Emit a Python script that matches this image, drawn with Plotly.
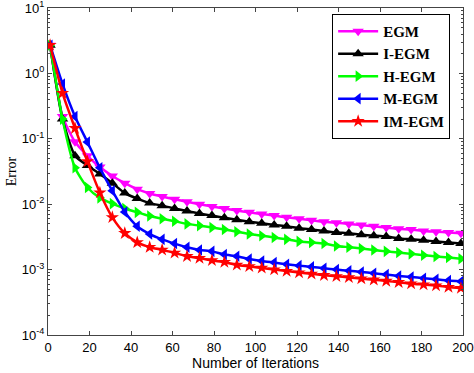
import plotly.graph_objects as go

iterations = [1, 7, 13, 19, 25, 31, 37, 43, 49, 55, 61, 67, 73, 79, 85, 91, 97,
              103, 109, 115, 121, 127, 133, 139, 145, 151, 157, 163, 169, 175,
              181, 187, 193, 199]

egm = [2.7, 0.22, 0.09, 0.055, 0.037, 0.027, 0.021, 0.017, 0.0146, 0.0131,
       0.0119, 0.0109, 0.0100, 0.0092, 0.0086, 0.0080, 0.0075, 0.0071, 0.0067,
       0.0063, 0.0060, 0.0057, 0.0054, 0.0052, 0.0050, 0.0048, 0.0046, 0.0044,
       0.0042, 0.0041, 0.0039, 0.0038, 0.0037, 0.0036]

i_egm = [2.7, 0.2, 0.055, 0.039, 0.029, 0.021, 0.0148, 0.0122, 0.0104, 0.0095,
         0.0086, 0.0079, 0.0072, 0.0067, 0.0062, 0.0058, 0.0054, 0.0051, 0.0048,
         0.0046, 0.0043, 0.0041, 0.0039, 0.0037, 0.0036, 0.0034, 0.0033, 0.0032,
         0.0030, 0.0029, 0.0028, 0.0027, 0.0026, 0.0025]

h_egm = [2.7, 0.2, 0.036, 0.018, 0.0125, 0.0102, 0.0086, 0.0075, 0.0066, 0.0060,
         0.0055, 0.0050, 0.0047, 0.0044, 0.0041, 0.0038, 0.0035, 0.0033, 0.0031,
         0.0029, 0.0027, 0.0026, 0.0025, 0.0023, 0.0022, 0.0021, 0.0020, 0.0019,
         0.00182, 0.00174, 0.00166, 0.00159, 0.00153, 0.00147]

m_egm = [2.7, 0.69, 0.22, 0.089, 0.036, 0.016, 0.0076, 0.0046, 0.0035, 0.0029,
         0.0025, 0.0022, 0.0020, 0.0019, 0.0017, 0.0016, 0.00145, 0.00135,
         0.00128, 0.00121, 0.00115, 0.0011, 0.00105, 0.001, 0.00096, 0.00092,
         0.00088, 0.00084, 0.00080, 0.00077, 0.00074, 0.00071, 0.00068, 0.00066]

im_egm = [2.7, 0.5, 0.145, 0.045, 0.015, 0.0063, 0.0036, 0.0026, 0.0022, 0.0020,
          0.0018, 0.0016, 0.0015, 0.00138, 0.0013, 0.00118, 0.00112, 0.00106,
          0.0010, 0.00095, 0.0009, 0.00086, 0.00082, 0.00079, 0.00076, 0.00073,
          0.0007, 0.00067, 0.00064, 0.00061, 0.00059, 0.00057, 0.00054, 0.00052]

series = [
    ("EGM", egm, "#FF00FF", "triangle-down"),
    ("I-EGM", i_egm, "#000000", "triangle-up"),
    ("H-EGM", h_egm, "#00FF00", "triangle-right"),
    ("M-EGM", m_egm, "#0000FF", "triangle-left"),
    ("IM-EGM", im_egm, "#FF0000", "star"),
]

y_tickvals = [1e-4, 1e-3, 1e-2, 1e-1, 1, 10]
y_ticktext = ["10<sup>-4</sup>", "10<sup>-3</sup>", "10<sup>-2</sup>",
              "10<sup>-1</sup>", "10<sup>0</sup>", "10<sup>1</sup>"]
x_tickvals = [0, 20, 40, 60, 80, 100, 120, 140, 160, 180, 200]

fig = go.Figure()
for name, vals, color, sym in series:
    fig.add_trace(go.Scatter(
        x=iterations, y=vals, name=name, mode="lines+markers",
        line=dict(color=color, width=2.5, shape="spline", smoothing=0.6),
        marker=dict(symbol=sym, size=10, color=color),
    ))

fig.update_layout(
    width=474, height=373,
    margin=dict(l=48, r=11, t=8, b=38),
    paper_bgcolor="white", plot_bgcolor="white",
    font=dict(family="Liberation Sans, Arial", size=13, color="black"),
    showlegend=True,
    legend=dict(
        x=0.969, y=0.982, xanchor="right", yanchor="top",
        bordercolor="black", borderwidth=1, bgcolor="white",
        font=dict(family="Liberation Serif, Times New Roman", size=15, color="black", weight="bold"),
        tracegroupgap=0, itemwidth=40,
    ),
)
fig.update_xaxes(
    range=[0, 200], tickvals=x_tickvals, ticks="inside", ticklen=4,
    showline=True, linecolor="#444", linewidth=1, mirror="ticks",
    showgrid=False, zeroline=False, automargin=False, ticklabeloverflow="allow",
    title=dict(text="Number of Iterations", font=dict(size=14), standoff=3),
    tickfont=dict(size=13),
)
fig.update_yaxes(
    type="log", range=[-4, 1], tickvals=y_tickvals, ticktext=y_ticktext,
    ticks="inside", ticklen=4,
    showline=True, linecolor="#444", linewidth=1, mirror="ticks",
    showgrid=False, zeroline=False, automargin=False, ticklabeloverflow="allow",
    minor=dict(ticks="inside", ticklen=2, dtick="D1", showgrid=False),
    title=dict(text="Error", font=dict(family="Liberation Serif, Times New Roman", size=14), standoff=1),
    tickfont=dict(size=13),
)

fig.write_html("out.html", config={"displayModeBar": False},
               post_script="document.body.style.margin='0';")
